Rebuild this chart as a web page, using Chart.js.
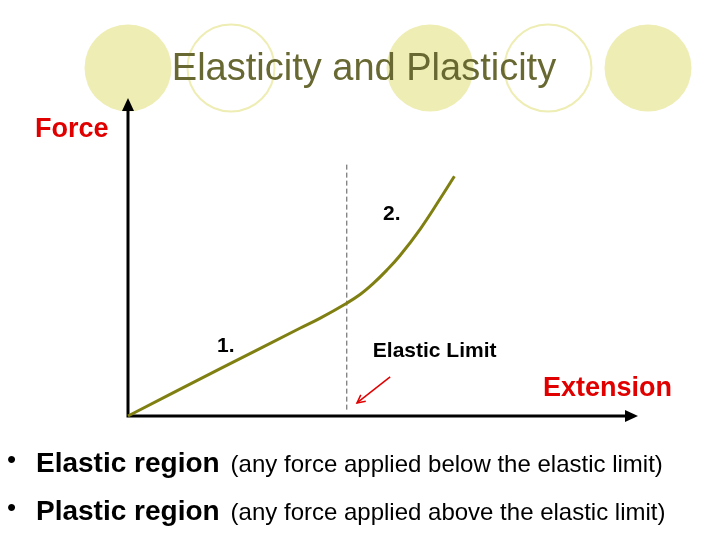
<!DOCTYPE html>
<html>
<head>
<meta charset="utf-8">
<script src="https://cdn.jsdelivr.net/npm/chart.js@4.4.1/dist/chart.umd.min.js"></script>
<style>
  html, body { margin: 0; padding: 0; background: #fff; }
  #wrap { width: 728px; height: 546px; position: relative; }
</style>
</head>
<body>
<div id="wrap"><canvas id="chart" width="728" height="546"></canvas></div>
<script>
// force-extension curve, arbitrary units (0..10 on both axes)
const extension = [0, 1.80, 3.37, 3.77, 4.28, 4.55, 4.81, 5.07, 5.33, 5.73, 6.12, 6.40];
const force     = [0, 1.48, 2.76, 3.08, 3.54, 3.82, 4.17, 4.58, 5.04, 5.88, 6.83, 7.54];

const elasticLimit = 4.29;
const limitSpan = [0.2, 7.95];

const titleText = "Elasticity and Plasticity";
const bulletBold = ["Elastic region", "Plastic region"];
const bulletNote = ["(any force applied below the elastic limit)", "(any force applied above the elastic limit)"];

const FONT = '"Liberation Sans", Arial, sans-serif';
const OLIVE = "#808012";
const RED = "#e00000";
const PALE = "#eeedb3";

// decorative circles along the top of the slide
const circles = [
    { x: 128, filled: true },
    { x: 231, filled: false },
    { x: 430, filled: true },
    { x: 548, filled: false },
    { x: 648, filled: true }
];

function arrowHead(ctx, x1, y1, x2, y2, len, half, filled) {
    const a = Math.atan2(y2 - y1, x2 - x1);
    const bx = x2 - len * Math.cos(a), by = y2 - len * Math.sin(a);
    const px = -Math.sin(a) * half, py = Math.cos(a) * half;
    ctx.beginPath();
    ctx.moveTo(bx + px, by + py);
    ctx.lineTo(x2, y2);
    ctx.lineTo(bx - px, by - py);
    if (filled) { ctx.closePath(); ctx.fill(); } else { ctx.stroke(); }
}

const slidePlugin = {
    id: "slide",
    beforeDraw(chart) {
        const ctx = chart.ctx;
        ctx.save();
        ctx.fillStyle = "#fff";
        ctx.fillRect(0, 0, chart.width, chart.height);
        circles.forEach(c => {
            ctx.beginPath();
            ctx.arc(c.x, 68, 43.5, 0, Math.PI * 2);
            if (c.filled) {
                ctx.fillStyle = PALE;
                ctx.fill();
            } else {
                ctx.strokeStyle = PALE;
                ctx.lineWidth = 2;
                ctx.stroke();
            }
        });
        ctx.fillStyle = "#686832";
        ctx.font = "38px " + FONT;
        ctx.textAlign = "center";
        ctx.textBaseline = "alphabetic";
        ctx.fillText(titleText, 364, 80);

        // bullets
        ctx.textAlign = "left";
        ctx.fillStyle = "#000";
        [472, 520].forEach((y, i) => {
            ctx.font = "26px " + FONT;
            ctx.fillText("\u2022", 7, y - 4);
            ctx.font = "bold 28px " + FONT;
            ctx.fillText(bulletBold[i], 36, y);
            const w = ctx.measureText(bulletBold[i]).width;
            ctx.font = "24px " + FONT;
            ctx.fillText(bulletNote[i], 36 + w + 11, y);
        });
        ctx.restore();
    },
    beforeDatasetsDraw(chart) {
        const ctx = chart.ctx;
        const { left, right, top, bottom } = chart.chartArea;
        ctx.save();
        ctx.strokeStyle = "#000";
        ctx.fillStyle = "#000";
        ctx.lineWidth = 3;
        ctx.beginPath();
        ctx.moveTo(left, bottom + 1.5);
        ctx.lineTo(left, top + 10);
        ctx.moveTo(left - 1.5, bottom);
        ctx.lineTo(right - 10, bottom);
        ctx.stroke();
        arrowHead(ctx, left, bottom, left, top, 13, 6, true);
        arrowHead(ctx, left, bottom, right, bottom, 13, 6, true);
        ctx.restore();
    },
    afterDatasetsDraw(chart) {
        const ctx = chart.ctx;
        const xs = chart.scales.x, ys = chart.scales.y;
        const X = v => xs.getPixelForValue(v), Y = v => ys.getPixelForValue(v);
        ctx.save();
        ctx.textBaseline = "alphabetic";
        ctx.textAlign = "left";
        ctx.fillStyle = "#000";
        ctx.font = "bold 21px " + FONT;
        ctx.fillText("1.", X(1.745), Y(2.01));
        ctx.fillText("2.", X(5.0), Y(6.16));
        ctx.fillText("Elastic Limit", X(4.80), Y(1.86));

        ctx.fillStyle = RED;
        ctx.font = "bold 27px " + FONT;
        ctx.fillText("Extension", 543, 396);
        ctx.fillText("Force", 35, 137);

        // small red arrow pointing at the elastic limit
        ctx.strokeStyle = RED;
        ctx.lineWidth = 1.5;
        const x1 = X(5.14), y1 = Y(1.23), x2 = X(4.49), y2 = Y(0.41);
        ctx.beginPath();
        ctx.moveTo(x1, y1);
        ctx.lineTo(x2, y2);
        ctx.stroke();
        arrowHead(ctx, x1, y1, x2, y2, 8, 4, false);
        ctx.restore();
    }
};

const ctx = document.getElementById("chart").getContext("2d");
new Chart(ctx, {
    type: "line",
    data: {
        datasets: [
            {
                data: extension.map((x, i) => ({ x, y: force[i] })),
                borderColor: OLIVE,
                borderWidth: 3,
                pointRadius: 0,
                tension: 0.4,
                fill: false,
                clip: false
            },
            {
                data: limitSpan.map(y => ({ x: elasticLimit, y })),
                borderColor: "#555",
                borderWidth: 1,
                borderDash: [5, 3],
                pointRadius: 0,
                fill: false,
                clip: false
            }
        ]
    },
    options: {
        responsive: false,
        animation: false,
        devicePixelRatio: 1,
        layout: { padding: { left: 128, right: 90, top: 98, bottom: 130 } },
        plugins: { legend: { display: false }, tooltip: { enabled: false } },
        scales: {
            x: { type: "linear", min: 0, max: 10, display: false },
            y: { type: "linear", min: 0, max: 10, display: false }
        }
    },
    plugins: [slidePlugin]
});
</script>
</body>
</html>
